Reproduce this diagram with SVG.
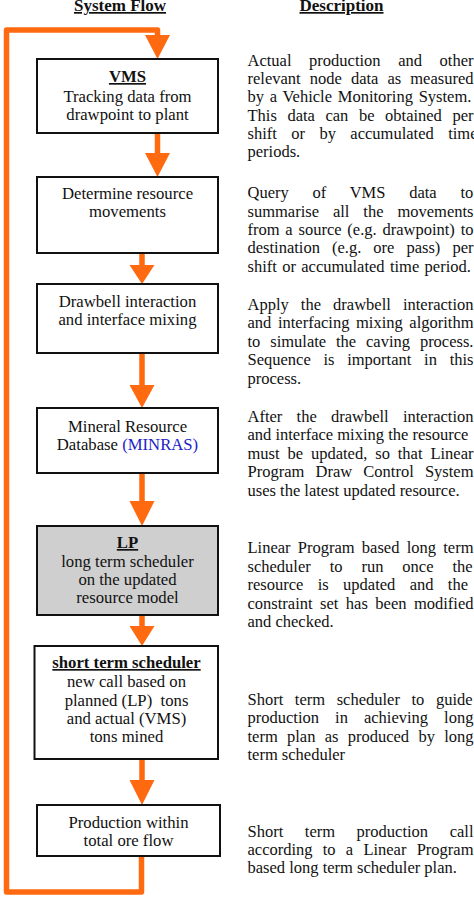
<svg xmlns="http://www.w3.org/2000/svg" width="474" height="919" viewBox="0 0 474 919">
<style>
text{font-family:"Liberation Serif","Times New Roman",serif;font-size:16.7px;fill:#111}
.c{text-anchor:middle}
.b{font-weight:bold;text-decoration:underline}
.h{font-size:17px}
.d{font-size:16.5px}
.box{fill:#fff;stroke:#111;stroke-width:2}
.gray{fill:#cfcfcf}
.ln{fill:none;stroke:#FF6A10;stroke-width:5.5;stroke-linejoin:round}
.head{fill:#FF6A10}
.blue{fill:#2323c8}
</style>
<rect width="474" height="919" fill="#fff"/>
<g id="headers">
<text class="c b h" x="120" y="11">System Flow</text>
<text class="c b h" x="341.5" y="11">Description</text>
</g>
<g id="connectors">
<path class="ln" d="M141.5,856 V892 H6.5 V30 H157.5 V37"/>
<polygon class="head" points="145,35 170,35 157.5,59"/>
<path class="ln" d="M157.5,133 V155"/>
<polygon class="head" points="145,153 170,153 157.5,177"/>
<path class="ln" d="M142,253 V267"/>
<polygon class="head" points="129.5,265 154.5,265 142,284"/>
<path class="ln" d="M142,353 V387"/>
<polygon class="head" points="129.5,385 154.5,385 142,408"/>
<path class="ln" d="M142,473 V503"/>
<polygon class="head" points="129.5,501 154.5,501 142,526"/>
<path class="ln" d="M142,615 V628"/>
<polygon class="head" points="129.5,626 154.5,626 142,646"/>
<path class="ln" d="M142,759 V782"/>
<polygon class="head" points="129.5,780 154.5,780 142,805"/>
</g>
<g id="vms">
<rect class="box" x="37" y="59" width="181" height="74"/>
<text class="c b" x="127.5" y="82">VMS</text>
<text class="c" x="127.5" y="102">Tracking data from</text>
<text class="c" x="127.5" y="120">drawpoint to plant</text>
</g>
<g id="determine">
<rect class="box" x="37" y="177" width="181" height="76"/>
<text class="c" x="127.5" y="199">Determine resource</text>
<text class="c" x="127.5" y="217">movements</text>
</g>
<g id="drawbell">
<rect class="box" x="37" y="284" width="181" height="69"/>
<text class="c" x="127.5" y="307">Drawbell interaction</text>
<text class="c" x="127.5" y="325">and interface mixing</text>
</g>
<g id="minras">
<rect class="box" x="37" y="408" width="181" height="65"/>
<text class="c" x="127.5" y="432">Mineral Resource</text>
<text class="c" x="127.5" y="450">Database <tspan class="blue">(MINRAS)</tspan></text>
</g>
<g id="lp">
<rect class="box gray" x="37" y="526" width="181" height="89"/>
<text class="c b" x="127.5" y="548">LP</text>
<text class="c" x="127.5" y="567">long term scheduler</text>
<text class="c" x="127.5" y="585">on the updated</text>
<text class="c" x="127.5" y="603">resource model</text>
</g>
<g id="short">
<rect class="box" x="34.5" y="646" width="183.5" height="113"/>
<text class="c b" x="126.5" y="668">short term scheduler</text>
<text class="c" x="126.5" y="687">new call based on</text>
<text class="c" x="126.5" y="706" xml:space="preserve">planned (LP)  tons</text>
<text class="c" x="126.5" y="724">and actual (VMS)</text>
<text class="c" x="126.5" y="742">tons mined</text>
</g>
<g id="production">
<rect class="box" x="37" y="805" width="183" height="51"/>
<text class="c" x="128.5" y="828">Production within</text>
<text class="c" x="128.5" y="846">total ore flow</text>
</g>
<g id="descriptions">
<text class="d" x="247.5" y="66" word-spacing="13.47">Actual production and other</text>
<text class="d" x="247.5" y="84" word-spacing="4.96">relevant node data as measured</text>
<text class="d" x="247.5" y="102" word-spacing="1.62">by a Vehicle Monitoring System.</text>
<text class="d" x="247.5" y="121" word-spacing="6.44">This data can be obtained per</text>
<text class="d" x="247.5" y="139" word-spacing="10.3">shift or by accumulated time</text>
<text class="d" x="247.5" y="157">periods.</text>

<text class="d" x="247.5" y="198" word-spacing="19.62">Query of VMS data to</text>
<text class="d" x="247.5" y="217" word-spacing="9.80">summarise all the movements</text>
<text class="d" x="247.5" y="235" word-spacing="1.67">from a source (e.g. drawpoint) to</text>
<text class="d" x="247.5" y="253" word-spacing="7.93">destination (e.g. ore pass) per</text>
<text class="d" x="247.5" y="272" word-spacing="1.2">shift or accumulated time period.</text>

<text class="d" x="247.5" y="310" word-spacing="7.97">Apply the drawbell interaction</text>
<text class="d" x="247.5" y="328" word-spacing="2.47">and interfacing mixing algorithm</text>
<text class="d" x="247.5" y="347" word-spacing="5.75">to simulate the caving process.</text>
<text class="d" x="247.5" y="365" word-spacing="8.61">Sequence is important in this</text>
<text class="d" x="247.5" y="384">process.</text>

<text class="d" x="247.5" y="422" word-spacing="10.12">After the drawbell interaction</text>
<text class="d" x="247.5" y="440">and interface mixing the resource</text>
<text class="d" x="247.5" y="459" word-spacing="3.77">must be updated, so that Linear</text>
<text class="d" x="247.5" y="477" word-spacing="7.04">Program Draw Control System</text>
<text class="d" x="247.5" y="496">uses the latest updated resource.</text>

<text class="d" x="247.5" y="553" word-spacing="3.12">Linear Program based long term</text>
<text class="d" x="247.5" y="572" word-spacing="14.81">scheduler to run once the</text>
<text class="d" x="247.5" y="590" word-spacing="10.22">resource is updated and the</text>
<text class="d" x="247.5" y="609" word-spacing="3.35">constraint set has been modified</text>
<text class="d" x="247.5" y="627">and checked.</text>

<text class="d" x="247.5" y="705" word-spacing="7.47">Short term scheduler to guide</text>
<text class="d" x="247.5" y="723" word-spacing="11.93">production in achieving long</text>
<text class="d" x="247.5" y="742" word-spacing="5.15">term plan as produced by long</text>
<text class="d" x="247.5" y="760">term scheduler</text>

<text class="d" x="247.5" y="837" word-spacing="17.44">Short term production call</text>
<text class="d" x="247.5" y="855" word-spacing="6.10">according to a Linear Program</text>
<text class="d" x="247.5" y="873">based long term scheduler plan.</text>
</g>
</svg>
